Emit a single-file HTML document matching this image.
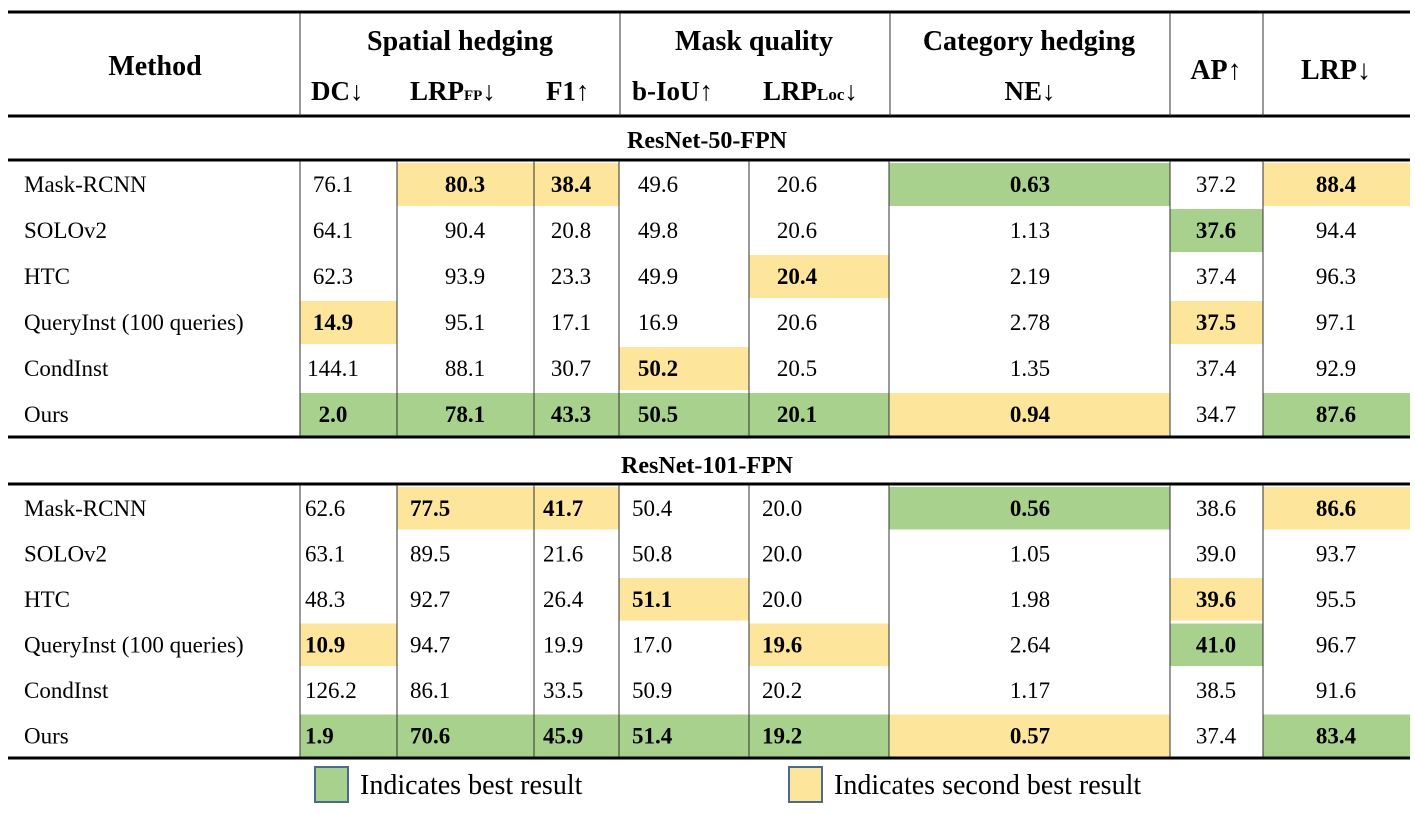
<!DOCTYPE html>
<html><head><meta charset="utf-8"><style>
html,body{margin:0;padding:0;background:#fff;}
svg{display:block;font-family:"Liberation Serif",serif;}
</style></head><body>
<svg id="t" width="1415" height="815" viewBox="0 0 1415 815">
<g id="bg"></g><g id="grid"></g><g id="txt"></g>
</svg>
<script>
const methods=["Mask-RCNN","SOLOv2","HTC","QueryInst (100 queries)","CondInst","Ours"];
const r50=[["76.1","80.3","38.4","49.6","20.6","0.63","37.2","88.4"],["64.1","90.4","20.8","49.8","20.6","1.13","37.6","94.4"],["62.3","93.9","23.3","49.9","20.4","2.19","37.4","96.3"],["14.9","95.1","17.1","16.9","20.6","2.78","37.5","97.1"],["144.1","88.1","30.7","50.2","20.5","1.35","37.4","92.9"],["2.0","78.1","43.3","50.5","20.1","0.94","34.7","87.6"]];
const h50=["-YY--G-Y","------G-","----Y---","Y-----Y-","---Y----","GGGGGY-G"];
const r101=[["62.6","77.5","41.7","50.4","20.0","0.56","38.6","86.6"],["63.1","89.5","21.6","50.8","20.0","1.05","39.0","93.7"],["48.3","92.7","26.4","51.1","20.0","1.98","39.6","95.5"],["10.9","94.7","19.9","17.0","19.6","2.64","41.0","96.7"],["126.2","86.1","33.5","50.9","20.2","1.17","38.5","91.6"],["1.9","70.6","45.9","51.4","19.2","0.57","37.4","83.4"]];
const h101=["-YY--G-Y","--------","---Y--Y-","Y---Y-G-","--------","GGGGGY-G"];
const NS="http://www.w3.org/2000/svg";
const colX=[8,300,397,534,619,749,889,1170,1263,1410];
const c1=[333,465,571,658,797,1030,1216,1336];
const l2=[305,410,543,632,762];
const G="#a9d18e",Y="#fde69c";
function mk(tag,at,par,txt){const e=document.createElementNS(NS,tag);for(const k in at)e.setAttribute(k,at[k]);if(txt!==undefined)e.textContent=txt;document.getElementById(par).appendChild(e);return e;}
function line(x1,y1,x2,y2,w,c){const e=mk('line',{x1,y1,x2,y2,stroke:c||'#000','stroke-width':w},'grid');

}
function text(x,y,s,opt){const e=mk('text',Object.assign({x,y,'font-size':23,fill:'#000'},opt||{}),'txt',s);

return e;}
// header
line(8,12,1410,12,3);line(8,116,1410,116,3);
[300,620,890,1170,1263].forEach(x=>line(x,13,x,116,1,'#333'));
const hb={'font-weight':'bold','font-size':28};
text(155,75,"Method",Object.assign({'text-anchor':'middle'},hb));
text(460,50,"Spatial hedging",Object.assign({'text-anchor':'middle'},hb));
text(754,50,"Mask quality",Object.assign({'text-anchor':'middle'},hb));
text(1029,50,"Category hedging",Object.assign({'text-anchor':'middle'},hb));
text(1216,79,"AP↑",Object.assign({'text-anchor':'middle'},hb));
text(1336,79,"LRP↓",Object.assign({'text-anchor':'middle'},hb));
const sb={'font-weight':'bold','font-size':27};
text(311,100,"DC↓",sb);
let t=text(410,100,"",sb);t.innerHTML='LRP<tspan font-size="15">FP</tspan>↓';
text(546,100,"F1↑",sb);
text(632,100,"b-IoU↑",sb);
t=text(763,100,"",sb);t.innerHTML='LRP<tspan font-size="17">Loc</tspan>↓';
text(1030,100,"NE↓",Object.assign({'text-anchor':'middle'},sb));
function block(label,labY,top,bot,rows,hl,b2){
  text(707,labY,label,{'text-anchor':'middle','font-weight':'bold','font-size':24});
  line(8,top-1,1410,top-1,3);
  const rh=(bot-top)/6;
  rows.forEach((r,i)=>{
    const y0=top+i*rh;
    for(let j=0;j<8;j++){
      const h=hl[i][j];
      if(h!=='-'){const e=mk('rect',{x:colX[j+1],y:y0+2,width:colX[j+2]-colX[j+1],height:rh-3,fill:h==='G'?G:Y},'bg');
        
        }
      const o={'font-weight':h!=='-'?'bold':'normal'};
      if(b2&&j<5) text(l2[j],y0+rh/2+8,r[j],o);
      else text(c1[j],y0+rh/2+8,r[j],Object.assign({'text-anchor':'middle'},o));
    }
    text(24,y0+rh/2+8,methods[i]);
  });
  [300,397,534,619,749,889,1170,1263].forEach(x=>line(x,top,x,bot,1,'#333'));
}
block("ResNet-50-FPN",148,161,437,r50,h50,false);
line(8,437,1410,437,3);
block("ResNet-101-FPN",473,485,758,r101,h101,true);
line(8,758,1410,758,3);
// legend
let e=mk('rect',{x:315,y:767,width:33,height:35,fill:G,stroke:'#4a6b8a','stroke-width':2},'bg');

e=mk('rect',{x:789,y:767,width:33,height:35,fill:Y,stroke:'#4a6b8a','stroke-width':2},'bg');

text(360,794,"Indicates best result",{'font-size':28});
text(834,794,"Indicates second best result",{'font-size':28});
</script>
</body></html>
